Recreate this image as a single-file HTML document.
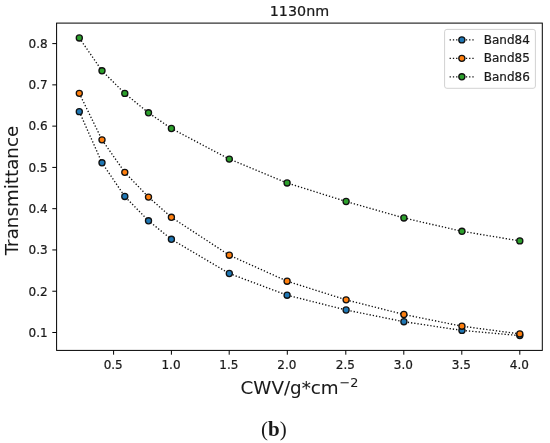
<!DOCTYPE html>
<html lang="en"><head><meta charset="utf-8"><title>1130nm</title>
<style>
html,body{margin:0;padding:0;background:#fff;}
body{width:550px;height:443px;overflow:hidden;position:relative;}
svg text{font-family:"DejaVu Sans","Liberation Sans",sans-serif;stroke:#1a1a1a;stroke-width:0.22px;}
svg text.cap{stroke:none;}
svg text.lab{stroke-width:0.08px;}
</style></head><body>
<svg width="550" height="443" viewBox="0 0 550 443" style="display:block;position:absolute;left:0;top:0">
<rect x="0" y="0" width="550" height="443" fill="#fff"/>
<polyline points="79.30,111.65 102.00,162.80 124.80,196.45 148.50,220.80 171.40,239.30 229.30,273.50 287.10,295.20 346.10,310.00 403.90,321.70 461.95,330.40 519.80,335.60" fill="none" stroke="#111" stroke-width="1.35" stroke-dasharray="1.3 1.95"/>
<circle cx="79.30" cy="111.65" r="3.05" fill="#1f77b4" stroke="#111" stroke-width="1.3"/>
<circle cx="102.00" cy="162.80" r="3.05" fill="#1f77b4" stroke="#111" stroke-width="1.3"/>
<circle cx="124.80" cy="196.45" r="3.05" fill="#1f77b4" stroke="#111" stroke-width="1.3"/>
<circle cx="148.50" cy="220.80" r="3.05" fill="#1f77b4" stroke="#111" stroke-width="1.3"/>
<circle cx="171.40" cy="239.30" r="3.05" fill="#1f77b4" stroke="#111" stroke-width="1.3"/>
<circle cx="229.30" cy="273.50" r="3.05" fill="#1f77b4" stroke="#111" stroke-width="1.3"/>
<circle cx="287.10" cy="295.20" r="3.05" fill="#1f77b4" stroke="#111" stroke-width="1.3"/>
<circle cx="346.10" cy="310.00" r="3.05" fill="#1f77b4" stroke="#111" stroke-width="1.3"/>
<circle cx="403.90" cy="321.70" r="3.05" fill="#1f77b4" stroke="#111" stroke-width="1.3"/>
<circle cx="461.95" cy="330.40" r="3.05" fill="#1f77b4" stroke="#111" stroke-width="1.3"/>
<circle cx="519.80" cy="335.60" r="3.05" fill="#1f77b4" stroke="#111" stroke-width="1.3"/>
<polyline points="79.30,93.35 102.00,139.85 124.80,172.35 148.50,197.10 171.40,217.30 229.30,255.20 287.10,281.20 346.10,299.85 403.90,314.50 461.95,326.20 519.80,333.90" fill="none" stroke="#111" stroke-width="1.35" stroke-dasharray="1.3 1.95"/>
<circle cx="79.30" cy="93.35" r="3.05" fill="#ff7f0e" stroke="#111" stroke-width="1.3"/>
<circle cx="102.00" cy="139.85" r="3.05" fill="#ff7f0e" stroke="#111" stroke-width="1.3"/>
<circle cx="124.80" cy="172.35" r="3.05" fill="#ff7f0e" stroke="#111" stroke-width="1.3"/>
<circle cx="148.50" cy="197.10" r="3.05" fill="#ff7f0e" stroke="#111" stroke-width="1.3"/>
<circle cx="171.40" cy="217.30" r="3.05" fill="#ff7f0e" stroke="#111" stroke-width="1.3"/>
<circle cx="229.30" cy="255.20" r="3.05" fill="#ff7f0e" stroke="#111" stroke-width="1.3"/>
<circle cx="287.10" cy="281.20" r="3.05" fill="#ff7f0e" stroke="#111" stroke-width="1.3"/>
<circle cx="346.10" cy="299.85" r="3.05" fill="#ff7f0e" stroke="#111" stroke-width="1.3"/>
<circle cx="403.90" cy="314.50" r="3.05" fill="#ff7f0e" stroke="#111" stroke-width="1.3"/>
<circle cx="461.95" cy="326.20" r="3.05" fill="#ff7f0e" stroke="#111" stroke-width="1.3"/>
<circle cx="519.80" cy="333.90" r="3.05" fill="#ff7f0e" stroke="#111" stroke-width="1.3"/>
<polyline points="79.30,37.95 102.00,70.80 124.80,93.40 148.50,112.80 171.40,128.50 229.30,159.10 287.10,182.95 346.10,201.50 403.90,217.95 461.95,231.30 519.80,240.90" fill="none" stroke="#111" stroke-width="1.35" stroke-dasharray="1.3 1.95"/>
<circle cx="79.30" cy="37.95" r="3.05" fill="#2ca02c" stroke="#111" stroke-width="1.3"/>
<circle cx="102.00" cy="70.80" r="3.05" fill="#2ca02c" stroke="#111" stroke-width="1.3"/>
<circle cx="124.80" cy="93.40" r="3.05" fill="#2ca02c" stroke="#111" stroke-width="1.3"/>
<circle cx="148.50" cy="112.80" r="3.05" fill="#2ca02c" stroke="#111" stroke-width="1.3"/>
<circle cx="171.40" cy="128.50" r="3.05" fill="#2ca02c" stroke="#111" stroke-width="1.3"/>
<circle cx="229.30" cy="159.10" r="3.05" fill="#2ca02c" stroke="#111" stroke-width="1.3"/>
<circle cx="287.10" cy="182.95" r="3.05" fill="#2ca02c" stroke="#111" stroke-width="1.3"/>
<circle cx="346.10" cy="201.50" r="3.05" fill="#2ca02c" stroke="#111" stroke-width="1.3"/>
<circle cx="403.90" cy="217.95" r="3.05" fill="#2ca02c" stroke="#111" stroke-width="1.3"/>
<circle cx="461.95" cy="231.30" r="3.05" fill="#2ca02c" stroke="#111" stroke-width="1.3"/>
<circle cx="519.80" cy="240.90" r="3.05" fill="#2ca02c" stroke="#111" stroke-width="1.3"/>
<line x1="52.30" y1="43.60" x2="56.60" y2="43.60" stroke="#000" stroke-width="1.0"/>
<text x="47.70" y="47.90" text-anchor="end" font-size="12.0" fill="#1a1a1a">0.8</text>
<line x1="52.30" y1="84.87" x2="56.60" y2="84.87" stroke="#000" stroke-width="1.0"/>
<text x="47.70" y="89.17" text-anchor="end" font-size="12.0" fill="#1a1a1a">0.7</text>
<line x1="52.30" y1="126.14" x2="56.60" y2="126.14" stroke="#000" stroke-width="1.0"/>
<text x="47.70" y="130.44" text-anchor="end" font-size="12.0" fill="#1a1a1a">0.6</text>
<line x1="52.30" y1="167.41" x2="56.60" y2="167.41" stroke="#000" stroke-width="1.0"/>
<text x="47.70" y="171.71" text-anchor="end" font-size="12.0" fill="#1a1a1a">0.5</text>
<line x1="52.30" y1="208.68" x2="56.60" y2="208.68" stroke="#000" stroke-width="1.0"/>
<text x="47.70" y="212.98" text-anchor="end" font-size="12.0" fill="#1a1a1a">0.4</text>
<line x1="52.30" y1="249.95" x2="56.60" y2="249.95" stroke="#000" stroke-width="1.0"/>
<text x="47.70" y="254.25" text-anchor="end" font-size="12.0" fill="#1a1a1a">0.3</text>
<line x1="52.30" y1="291.22" x2="56.60" y2="291.22" stroke="#000" stroke-width="1.0"/>
<text x="47.70" y="295.52" text-anchor="end" font-size="12.0" fill="#1a1a1a">0.2</text>
<line x1="52.30" y1="332.49" x2="56.60" y2="332.49" stroke="#000" stroke-width="1.0"/>
<text x="47.70" y="336.79" text-anchor="end" font-size="12.0" fill="#1a1a1a">0.1</text>
<line x1="113.60" y1="350.40" x2="113.60" y2="354.70" stroke="#000" stroke-width="1.0"/>
<text x="113.20" y="368.50" text-anchor="middle" font-size="12.0" fill="#1a1a1a">0.5</text>
<line x1="171.40" y1="350.40" x2="171.40" y2="354.70" stroke="#000" stroke-width="1.0"/>
<text x="171.00" y="368.50" text-anchor="middle" font-size="12.0" fill="#1a1a1a">1.0</text>
<line x1="229.20" y1="350.40" x2="229.20" y2="354.70" stroke="#000" stroke-width="1.0"/>
<text x="228.80" y="368.50" text-anchor="middle" font-size="12.0" fill="#1a1a1a">1.5</text>
<line x1="287.30" y1="350.40" x2="287.30" y2="354.70" stroke="#000" stroke-width="1.0"/>
<text x="286.90" y="368.50" text-anchor="middle" font-size="12.0" fill="#1a1a1a">2.0</text>
<line x1="345.80" y1="350.40" x2="345.80" y2="354.70" stroke="#000" stroke-width="1.0"/>
<text x="345.40" y="368.50" text-anchor="middle" font-size="12.0" fill="#1a1a1a">2.5</text>
<line x1="403.80" y1="350.40" x2="403.80" y2="354.70" stroke="#000" stroke-width="1.0"/>
<text x="403.40" y="368.50" text-anchor="middle" font-size="12.0" fill="#1a1a1a">3.0</text>
<line x1="461.80" y1="350.40" x2="461.80" y2="354.70" stroke="#000" stroke-width="1.0"/>
<text x="461.40" y="368.50" text-anchor="middle" font-size="12.0" fill="#1a1a1a">3.5</text>
<line x1="519.80" y1="350.40" x2="519.80" y2="354.70" stroke="#000" stroke-width="1.0"/>
<text x="519.40" y="368.50" text-anchor="middle" font-size="12.0" fill="#1a1a1a">4.0</text>
<rect x="56.6" y="23.1" width="485.70" height="327.30" fill="none" stroke="#000" stroke-width="1.0"/>
<text x="299.45" y="15.6" text-anchor="middle" font-size="14.3" fill="#1a1a1a">1130nm</text>
<text x="299.45" y="393.6" text-anchor="middle" font-size="18.3" fill="#1a1a1a" class="lab">CWV/g*cm<tspan font-size="12.81" dx="0.8" dy="-6.6">−2</tspan></text>
<text transform="translate(18.3,190.55) rotate(-90)" text-anchor="middle" font-size="18.3" fill="#1a1a1a" class="lab">Transmittance</text>
<rect x="444.6" y="29.4" width="90.8" height="58.9" rx="2.3" ry="2.3" fill="#fff" fill-opacity="0.8" stroke="#ccc" stroke-width="0.91"/>
<line x1="449.6" y1="39.90" x2="474.0" y2="39.90" stroke="#111" stroke-width="1.35" stroke-dasharray="1.3 1.95"/>
<circle cx="461.85" cy="39.90" r="3.05" fill="#1f77b4" stroke="#111" stroke-width="1.3"/>
<text x="483.7" y="43.80" font-size="12.0" fill="#1a1a1a">Band84</text>
<line x1="449.6" y1="58.35" x2="474.0" y2="58.35" stroke="#111" stroke-width="1.35" stroke-dasharray="1.3 1.95"/>
<circle cx="461.85" cy="58.35" r="3.05" fill="#ff7f0e" stroke="#111" stroke-width="1.3"/>
<text x="483.7" y="62.20" font-size="12.0" fill="#1a1a1a">Band85</text>
<line x1="449.6" y1="76.80" x2="474.0" y2="76.80" stroke="#111" stroke-width="1.35" stroke-dasharray="1.3 1.95"/>
<circle cx="461.85" cy="76.80" r="3.05" fill="#2ca02c" stroke="#111" stroke-width="1.3"/>
<text x="483.7" y="80.60" font-size="12.0" fill="#1a1a1a">Band86</text>
<text x="273.8" y="435.5" text-anchor="middle" font-size="21" fill="#1a1a1a" class="cap" style="font-family:'Liberation Serif','DejaVu Serif',serif">(<tspan font-weight="bold">b</tspan>)</text>
</svg>
</body></html>
